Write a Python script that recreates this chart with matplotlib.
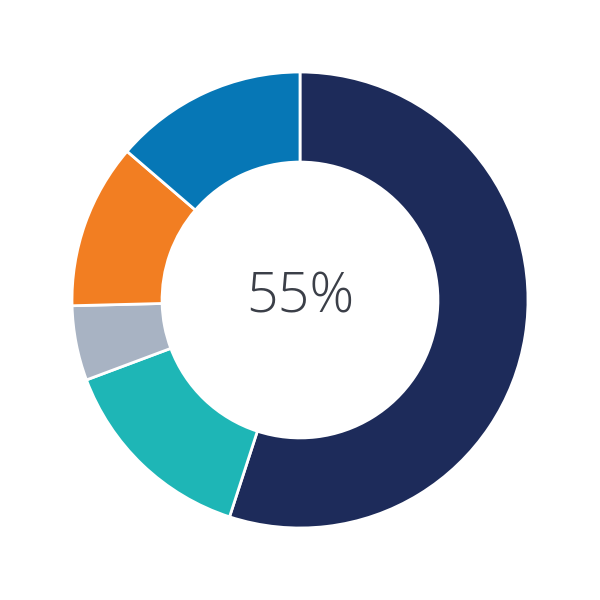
import matplotlib
matplotlib.use('Agg')
import matplotlib.pyplot as plt

# slice shares, clockwise from 12 o'clock
labels = ['Navy', 'Teal', 'Gray', 'Orange', 'Blue']
values = [55, 14.3, 5.3, 11.7, 13.7]
colors = ['#1d2b5a', '#1eb6b6', '#a8b3c3', '#f27e22', '#0677b6']
center_text = '55%'

fig = plt.figure(figsize=(6, 6), dpi=100)
ax = fig.add_axes([0, 0, 1, 1])
ax.pie(values, colors=colors, startangle=90, counterclock=False,
       radius=1.0,
       wedgeprops=dict(width=0.395, edgecolor='white', linewidth=2))
lim = 300 / 228
ax.set_xlim(-lim, lim)
ax.set_ylim(-lim, lim)
ax.set_aspect('equal')
ax.axis('off')
ax.text(0, 0.01, center_text, ha='center', va='center', fontsize=40,
        fontweight='light', color='#3b3f48', family=['Open Sans', 'DejaVu Sans'])

fig.savefig('out.png', dpi=100, facecolor='white')
